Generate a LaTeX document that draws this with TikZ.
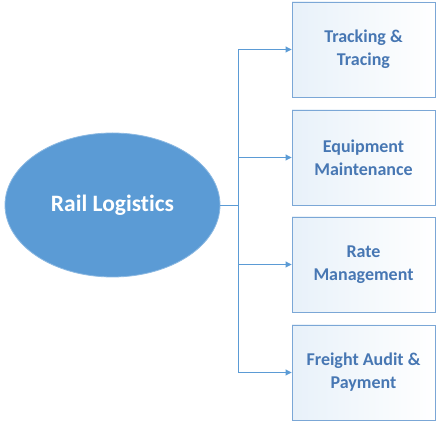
\documentclass[tikz,border=0pt]{standalone}
\usepackage{fontspec}
\setmainfont[Ligatures={NoCommon}]{Carlito}
\usetikzlibrary{arrows.meta,shapes.geometric}
\definecolor{oblue}{HTML}{5B9BD5}
\definecolor{tblue}{HTML}{4777B3}
\definecolor{bord}{HTML}{7BA7D6}
\tikzset{
  x=1pt,y=1pt,
  hub/.style={ellipse,draw=oblue!70,line width=0.8pt,fill=oblue,minimum width=215pt,minimum height=144pt,inner sep=0pt,text=white,font=\bfseries\fontsize{23.5}{28}\selectfont},
  leaf/.style={rectangle,draw=bord,line width=0.9pt,left color=oblue!14,right color=white,minimum width=143pt,minimum height=95pt,inner sep=0pt,text=tblue,align=center,font=\bfseries\fontsize{18}{23}\selectfont},
  conn/.style={draw=oblue,line width=0.9pt},
  arr/.style={conn,-{Triangle[length=6pt,width=6pt]}}
}
\begin{document}
\begin{tikzpicture}
\useasboundingbox (0,0) rectangle (439,422);
\node[hub] (hub) at (112.5,217) {Rail Logistics};
\node[leaf] (b1) at (363.5,372.5) {Tracking \&\\Tracing};
\node[leaf] (b2) at (363.5,264.5) {Equipment\\Maintenance};
\node[leaf] (b3) at (363.5,157.5) {Rate\\Management};
\node[leaf] (b4) at (363.5,49.5) {Freight Audit \&\\Payment};
\coordinate (j) at (238,217);
\coordinate (jt) at (238,372.5);
\coordinate (jb) at (238,49.5);
\draw[conn] (hub.east) -- (j);
\draw[conn] (jt) -- (jb);
\draw[arr] (jt) -- (b1.west);
\draw[arr] (238,264.5) -- (b2.west);
\draw[arr] (238,157.5) -- (b3.west);
\draw[arr] (jb) -- (b4.west);
\end{tikzpicture}
\end{document}
